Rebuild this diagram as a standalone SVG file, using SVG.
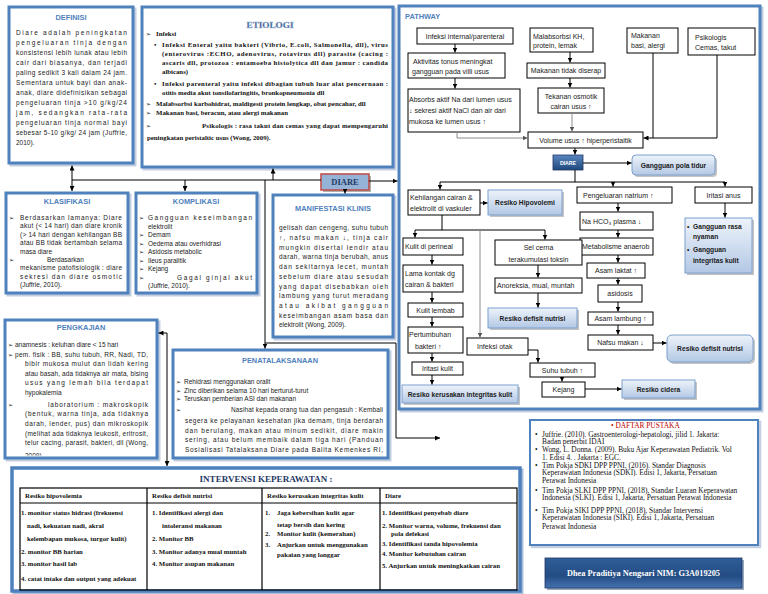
<svg xmlns="http://www.w3.org/2000/svg" width="768" height="594" viewBox="0 0 768 594">
<style>
.box{fill:#fff;stroke:#4F81BD;stroke-width:3}
.sh{fill:none;stroke:#c3cfe0;stroke-width:3}
.ttl{font-family:"Liberation Sans",Arial,sans-serif;font-weight:bold;font-size:7.4px;fill:#4F81BD;text-anchor:middle}
.t{font-family:"Liberation Sans",Arial,sans-serif;font-size:6.5px;fill:#1a1a1a}
.bu{font-family:"DejaVu Sans",sans-serif;font-size:6px;fill:#1a1a1a}
.s{font-family:"Liberation Serif","Times New Roman",serif;font-size:6.8px;font-weight:bold;fill:#111}
.tb{font-family:"Liberation Serif","Times New Roman",serif;font-size:6.8px;font-weight:bold;fill:#111}
.dp{font-family:"Liberation Serif","Times New Roman",serif;font-size:7.4px;fill:#111}
.pn{fill:#fff;stroke:#000;stroke-width:1}
.pt{font-family:"Liberation Sans",Arial,sans-serif;font-size:7px;fill:#1a1a1a}
.c{text-anchor:middle}
.rb{fill:url(#lb);stroke:#7BA0CD;stroke-width:1}
.rs{fill:#c4c4c4}
.rt{font-family:"Liberation Sans",Arial,sans-serif;font-size:6.7px;font-weight:bold;fill:#1a1a1a}
.ln{fill:none;stroke:#000;stroke-width:1}
.lg{fill:none;stroke:#8c8c8c;stroke-width:1}
.tl{fill:none;stroke:#000;stroke-width:1.2}
</style>
<defs>
<marker id="ah" viewBox="0 0 6 6" refX="6" refY="3" markerWidth="5" markerHeight="5" orient="auto-start-reverse" markerUnits="userSpaceOnUse"><path d="M0,0 L6,3 L0,6 z" fill="#000"/></marker>
<marker id="ahg" viewBox="0 0 6 6" refX="6" refY="3" markerWidth="5" markerHeight="5" orient="auto-start-reverse" markerUnits="userSpaceOnUse"><path d="M0,0 L6,3 L0,6 z" fill="#555"/></marker>
<linearGradient id="lb" x1="0" y1="0" x2="0" y2="1"><stop offset="0" stop-color="#EEF3FA"/><stop offset="1" stop-color="#B3C8E5"/></linearGradient>
<linearGradient id="db" x1="0" y1="0" x2="0" y2="1"><stop offset="0" stop-color="#5A86C0"/><stop offset="1" stop-color="#1F497D"/></linearGradient>
<linearGradient id="ab" x1="0" y1="0" x2="0" y2="1"><stop offset="0" stop-color="#2F5E98"/><stop offset="0.6" stop-color="#244C84"/><stop offset="1" stop-color="#4472B0"/></linearGradient>
<clipPath id="cpk"><rect x="5" y="320" width="152" height="135.5"/></clipPath>
</defs>
<rect width="768" height="594" fill="#fff"/>

<g id="definisi">
<rect class="sh" x="11" y="9" width="124" height="156"/>
<rect class="box" x="9" y="7" width="124" height="156"/>
<text class="ttl" x="71" y="20">DEFINISI</text>
<text class="t" x="16" y="35" textLength="111" lengthAdjust="spacing">Diare adalah peningkatan</text>
<text class="t" x="16" y="45" textLength="111" lengthAdjust="spacing">pengeluaran tinja dengan</text>
<text class="t" x="16" y="55" textLength="111" lengthAdjust="spacing">konsistensi lebih lunak atau lebih</text>
<text class="t" x="16" y="65" textLength="111" lengthAdjust="spacing">cair dari biasanya, dan terjadi</text>
<text class="t" x="16" y="75" textLength="111" lengthAdjust="spacing">paling sedikit 3 kali dalam 24 jam.</text>
<text class="t" x="16" y="85" textLength="111" lengthAdjust="spacing">Sementara untuk bayi dan anak-</text>
<text class="t" x="16" y="95" textLength="111" lengthAdjust="spacing">anak, diare didefinisikan sebagai</text>
<text class="t" x="16" y="105" textLength="111" lengthAdjust="spacing">pengeluaran tinja &gt;10 g/kg/24</text>
<text class="t" x="16" y="115" textLength="111" lengthAdjust="spacing">jam, sedangkan rata-rata</text>
<text class="t" x="16" y="125" textLength="111" lengthAdjust="spacing">pengeluaran tinja normal bayi</text>
<text class="t" x="16" y="135" textLength="111" lengthAdjust="spacing">sebesar 5-10 g/kg/ 24 jam (Juffrie,</text>
<text class="t" x="16" y="145">2010).</text>
</g>

<g id="etiologi">
<rect class="sh" x="144" y="9" width="251" height="160"/>
<rect class="box" x="142" y="7" width="251" height="160"/>
<text x="270" y="28" text-anchor="middle" textLength="47" lengthAdjust="spacingAndGlyphs" style="font-family:'Liberation Serif',serif;font-weight:bold;font-size:8.6px;fill:#2B4C82;stroke:#9DB4D6;stroke-width:0.4">ETIOLOGI</text>
<text class="bu" x="146" y="36">➢</text><text class="s" x="156" y="36">Infeksi</text>
<text class="s" x="154" y="46.5">•</text><text class="s" x="162" y="46.5" textLength="226" lengthAdjust="spacing">Infeksi Enteral yaitu bakteri (Vibrio, E.coli, Salmonella, dll), virus</text>
<text class="s" x="162" y="56" textLength="226" lengthAdjust="spacing">(enterovirus :ECHO, adenovirus, rotavirus dll) parasite (cacing :</text>
<text class="s" x="162" y="65" textLength="226" lengthAdjust="spacing">ascaris dll, protozoa : entamoeba histolytica dll dan jamur : candida</text>
<text class="s" x="162" y="74">albicans)</text>
<text class="s" x="154" y="86">•</text><text class="s" x="162" y="86" textLength="226" lengthAdjust="spacing">Infeksi parenteral yaitu infeksi dibagian tubuh luar alat pencernaan :</text>
<text class="s" x="162" y="95">otitis media akut tonsilofaringitis, bronkopneumonia dll</text>
<text class="bu" x="146" y="105.5">➢</text><text class="s" x="156" y="105.5">Malabsorbsi karbohidrat, maldigesti protein lengkap, obat pencahar, dll</text>
<text class="bu" x="146" y="115">➢</text><text class="s" x="156" y="115">Makanan basi, beracun, atau alergi makanan</text>
<text class="bu" x="146" y="128">➢</text><text class="s" x="202" y="128" textLength="186" lengthAdjust="spacing">Psikologis : rasa takut dan cemas yang dapat mempengaruhi</text>
<text class="s" x="147" y="140">peningkatan peristaltic usus (Wong, 2009).</text>
</g>

<g id="diare-center">
<rect x="323" y="176" width="48" height="16" fill="#b0b0b0"/>
<rect x="321" y="174" width="48" height="16" fill="#95B3D7" stroke="#C0504D" stroke-width="1.6"/>
<text x="345" y="185.3" text-anchor="middle" style="font-family:'Liberation Serif',serif;font-weight:bold;font-size:8.5px;fill:#1F3864">DIARE</text>
</g>

<g id="klasifikasi">
<rect class="sh" x="8" y="195" width="122" height="100"/>
<rect class="box" x="6" y="193" width="122" height="100"/>
<text class="ttl" x="67" y="203.5">KLASIFIKASI</text>
<text class="bu" x="9" y="220">➢</text><text class="t" x="20" y="220" textLength="102" lengthAdjust="spacing">Berdasarkan lamanya: Diare</text>
<text class="t" x="20" y="228.4" textLength="102" lengthAdjust="spacing">akut (&lt; 14 hari) dan diare kronik</text>
<text class="t" x="20" y="236.8" textLength="102" lengthAdjust="spacing">(&gt; 14 hari dengan kehilangan BB</text>
<text class="t" x="20" y="245.2" textLength="102" lengthAdjust="spacing">atau BB tidak bertambah selama</text>
<text class="t" x="20" y="253.6">masa diare</text>
<text class="bu" x="9" y="262">➢</text><text class="t" x="47" y="262">Berdasarkan</text>
<text class="t" x="20" y="270.4" textLength="102" lengthAdjust="spacing">mekanisme patofisiologik : diare</text>
<text class="t" x="20" y="278.8" textLength="102" lengthAdjust="spacing">sekresi dan diare osmotic</text>
<text class="t" x="20" y="287.2">(Juffrie, 2010).</text>
</g>

<g id="komplikasi">
<rect class="sh" x="138" y="195" width="121" height="100"/>
<rect class="box" x="136" y="193" width="121" height="100"/>
<text class="ttl" x="196" y="203.5">KOMPLIKASI</text>
<text class="bu" x="139" y="220">➢</text><text class="t" x="148" y="220" textLength="104" lengthAdjust="spacing">Gangguan keseimbangan</text>
<text class="t" x="148" y="228.5">elektrolit</text>
<text class="bu" x="139" y="237">➢</text><text class="t" x="148" y="237">Demam</text>
<text class="bu" x="139" y="245.5">➢</text><text class="t" x="148" y="245.5">Oedema atau overhidrasi</text>
<text class="bu" x="139" y="254">➢</text><text class="t" x="148" y="254">Asidosis metabolic</text>
<text class="bu" x="139" y="262.5">➢</text><text class="t" x="148" y="262.5">Ileus paralitik</text>
<text class="bu" x="139" y="271">➢</text><text class="t" x="148" y="271">Kejang</text>
<text class="bu" x="139" y="279.5">➢</text><text class="t" x="177" y="279.5" textLength="75" lengthAdjust="spacing">Gagal ginjal akut</text>
<text class="t" x="148" y="288">(Juffrie, 2010).</text>
</g>

<g id="manifestasi">
<rect class="sh" x="275" y="197" width="120" height="142"/>
<rect class="box" x="273" y="195" width="120" height="142"/>
<text class="ttl" x="333" y="210.5">MANIFESTASI KLINIS</text>
<text class="t" x="279" y="230.3" textLength="109" lengthAdjust="spacing">gelisah dan cengeng, suhu tubuh</text>
<text class="t" x="279" y="240" textLength="109" lengthAdjust="spacing">↑, nafsu makan ↓, tinja cair</text>
<text class="t" x="279" y="249.7" textLength="109" lengthAdjust="spacing">mungkin disertai lendir atau</text>
<text class="t" x="279" y="259.4" textLength="109" lengthAdjust="spacing">darah, warna tinja berubah, anus</text>
<text class="t" x="279" y="269.1" textLength="109" lengthAdjust="spacing">dan sekitarnya lecet, muntah</text>
<text class="t" x="279" y="278.8" textLength="109" lengthAdjust="spacing">sebelum diare atau sesudah</text>
<text class="t" x="279" y="288.5" textLength="109" lengthAdjust="spacing">yang dapat disebabkan oleh</text>
<text class="t" x="279" y="298.2" textLength="109" lengthAdjust="spacing">lambung yang turut meradang</text>
<text class="t" x="279" y="307.9" textLength="109" lengthAdjust="spacing">atau akibat gangguan</text>
<text class="t" x="279" y="317.6" textLength="109" lengthAdjust="spacing">keseimbangan asam basa dan</text>
<text class="t" x="279" y="327.3">elektrolit (Wong, 2009).</text>
</g>

<g id="pengkajian">
<rect class="sh" x="7" y="322" width="152" height="138"/>
<rect class="box" x="5" y="320" width="152" height="138"/>
<text class="ttl" x="81" y="330">PENGKAJIAN</text>
<g clip-path="url(#cpk)">
<text class="bu" x="8" y="347">➢</text><text class="t" x="15" y="347">anamnesis : keluhan diare &lt; 15 hari</text>
<text class="bu" x="8" y="356.6">➢</text><text class="t" x="15" y="356.6" textLength="133" lengthAdjust="spacing">pem. fisik : BB, suhu tubuh, RR, Nadi, TD,</text>
<text class="t" x="25" y="366.2" textLength="123" lengthAdjust="spacing">bibir mukosa mulut dan lidah kering</text>
<text class="t" x="25" y="375.8" textLength="123" lengthAdjust="spacing">atau basah, ada tidaknya air mata, bising</text>
<text class="t" x="25" y="385.4" textLength="123" lengthAdjust="spacing">usus yang lemah bila terdapat</text>
<text class="t" x="25" y="395">hypokalemia</text>
<text class="bu" x="8" y="406.5">➢</text><text class="t" x="48" y="406.5" textLength="100" lengthAdjust="spacing">laboratorium : makroskopik</text>
<text class="t" x="25" y="416.2" textLength="123" lengthAdjust="spacing">(bentuk, warna tinja, ada tidaknya</text>
<text class="t" x="25" y="425.9" textLength="123" lengthAdjust="spacing">darah, lender, pus) dan mikroskopik</text>
<text class="t" x="25" y="435.6" textLength="123" lengthAdjust="spacing">(melihat ada tidaknya leukosit, eritrosit,</text>
<text class="t" x="25" y="445.3" textLength="123" lengthAdjust="spacing">telur cacing, parasit, bakteri, dll (Wong,</text>
<text class="t" x="25" y="457.5">2009).</text>
</g>
</g>

<g id="penatalaksanaan">
<rect class="sh" x="175" y="352" width="215" height="108"/>
<rect class="box" x="173" y="350" width="215" height="108"/>
<text class="ttl" x="280" y="362.5">PENATALAKSANAAN</text>
<text class="bu" x="176" y="384">➢</text><text class="t" x="184" y="384">Rehidrasi menggunakan oralit</text>
<text class="bu" x="176" y="392.5">➢</text><text class="t" x="184" y="392.5">Zinc diberikan selama 10 hari berturut-turut</text>
<text class="bu" x="176" y="401">➢</text><text class="t" x="184" y="401">Teruskan pemberian ASI dan makanan</text>
<text class="bu" x="176" y="412">➢</text><text class="t" x="231" y="412" textLength="152" lengthAdjust="spacing">Nasihat kepada orang tua dan pengasuh : Kembali</text>
<text class="t" x="185" y="422.5" textLength="198" lengthAdjust="spacing">segera ke pelayanan kesehatan jika demam, tinja berdarah</text>
<text class="t" x="185" y="432.5" textLength="198" lengthAdjust="spacing">dan berulang, makan atau minum sedikit, diare makin</text>
<text class="t" x="185" y="442" textLength="198" lengthAdjust="spacing">sering, atau belum membaik dalam tiga hari (Panduan</text>
<text class="t" x="185" y="451.5" textLength="198" lengthAdjust="spacing">Sosialisasi Tatalaksana Diare pada Balita Kemenkes RI,</text>
</g>

<g id="pathway">
<rect class="sh" x="401" y="8" width="361" height="403"/>
<rect class="box" x="399" y="6" width="361" height="403"/>
<text x="405" y="19" style="font-family:'Liberation Sans',Arial,sans-serif;font-weight:bold;font-size:7.4px;fill:#4F81BD">PATHWAY</text>
</g>

<g id="p-infeksi"><rect class="pn" x="417" y="28" width="96" height="16"/><text class="pt c" x="465" y="38.8">Infeksi internal/parenteral</text></g>
<g id="p-aktivitas"><rect class="pn" x="408" y="53" width="97" height="25"/><text class="pt" x="413" y="63.5">Aktivitas tonus meningkat</text><text class="pt" x="412" y="74">gangguan pada villi usus</text></g>
<g id="p-absorbs"><rect class="pn" x="408" y="89" width="112" height="43"/><text class="pt" x="409" y="101.5">Absorbs aktif Na dari lumen usus</text><text class="pt" x="409" y="112.5">↓ sekresi aktif NaCl dan air dari</text><text class="pt" x="409" y="124">mukosa ke lumen usus ↑</text></g>
<g id="p-malabsorbsi"><rect class="pn" x="530" y="28" width="63" height="24"/><text class="pt" x="533" y="38.5">Malabsorbsi KH,</text><text class="pt" x="533" y="48">protein, lemak</text></g>
<g id="p-makanan-tidak"><rect class="pn" x="527" y="63" width="78" height="15"/><text class="pt c" x="566" y="73">Makanan tidak diserap</text></g>
<g id="p-tekanan"><rect class="pn" x="538" y="88" width="66" height="25"/><text class="pt c" x="571" y="98.5">Tekanan osmotik</text><text class="pt c" x="571" y="109">cairan usus ↑</text></g>
<g id="p-makanan-basi"><rect class="pn" x="627" y="28" width="51" height="25"/><text class="pt" x="631" y="38">Makanan</text><text class="pt" x="631" y="48">basi, alergi</text></g>
<g id="p-psikologis"><rect class="pn" x="688" y="28" width="67" height="27"/><text class="pt" x="695" y="40">Psikologis</text><text class="pt" x="695" y="50">Cemas, takut</text></g>
<g id="p-volume"><rect class="pn" x="528" y="132" width="115" height="16"/><text class="pt c" x="585.5" y="142.5">Volume usus ↑ hiperperistaltik</text></g>
<g id="p-diare"><rect x="553" y="155" width="30" height="15" fill="url(#db)" stroke="#1F3864" stroke-width="0.8"/><text x="568" y="164.8" text-anchor="middle" style="font-family:'Liberation Sans',Arial,sans-serif;font-weight:bold;font-size:5.2px;fill:#fff">DIARE</text></g>
<g id="p-pola-tidur"><rect class="rs" x="634" y="157" width="83" height="20" rx="4"/><rect class="rb" x="632" y="155" width="83" height="20" rx="4"/><text class="rt c" x="673.5" y="167.5">Gangguan pola tidur</text></g>
<g id="p-kehilangan"><rect class="pn" x="408" y="190" width="72" height="25"/><text class="pt" x="410" y="200">Kehilangan cairan &amp;</text><text class="pt" x="410" y="210.5">elektrolit di vaskuler</text></g>
<g id="p-hipovolemi"><rect class="rs" x="490" y="192" width="74" height="25"/><rect class="rb" x="488" y="190" width="74" height="25"/><text class="rt c" x="525" y="205">Resiko Hipovolemi</text></g>
<g id="p-natrium"><rect class="pn" x="577" y="187" width="95" height="16"/><text class="pt" x="583" y="197.5">Pengeluaran natrium ↑</text></g>
<g id="p-iritasi-anus"><rect class="pn" x="695" y="187" width="57" height="16"/><text class="pt c" x="723.5" y="197.5">Iritasi anus</text></g>
<g id="p-gangguan-rasa"><rect class="rs" x="687" y="220" width="67" height="55"/><rect class="rb" x="685" y="218" width="67" height="55"/><text class="rt" x="687" y="228.5">•</text><text class="rt" x="693" y="228.5">Gangguan rasa</text><text class="rt" x="693" y="239">nyaman</text><text class="rt" x="687" y="252">•</text><text class="rt" x="693" y="252">Gangguan</text><text class="rt" x="693" y="262.5">integritas kulit</text></g>
<g id="p-nahco3"><rect class="pn" x="580" y="212" width="73" height="18"/><text class="pt" x="582" y="223.5">Na HCO₃ plasma ↓</text></g>
<g id="p-metabolisme"><rect class="pn" x="580" y="238" width="73" height="17"/><text class="pt" x="582" y="249">Metabolisme anaerob</text></g>
<g id="p-laktat"><rect class="pn" x="587" y="263" width="58" height="15"/><text class="pt c" x="616" y="273">Asam laktat ↑</text></g>
<g id="p-asidosis"><rect class="pn" x="598" y="285" width="44" height="17"/><text class="pt c" x="620" y="296">asidosis</text></g>
<g id="p-lambung"><rect class="pn" x="588" y="312" width="65" height="13"/><text class="pt c" x="620.5" y="321">Asam lambung ↑</text></g>
<g id="p-nafsu"><rect class="pn" x="588" y="335" width="65" height="15"/><text class="pt c" x="620.5" y="345">Nafsu makan ↓</text></g>
<g id="p-defisit2"><rect class="rs" x="669" y="337" width="86" height="27" rx="5"/><rect class="rb" x="667" y="335" width="86" height="27" rx="5"/><text class="rt c" x="710" y="351">Resiko defisit nutrisi</text></g>
<g id="p-perineal"><rect class="pn" x="403" y="238" width="60" height="17"/><text class="pt" x="405" y="249">Kulit di perineal</text></g>
<g id="p-lama"><rect class="pn" x="403" y="265" width="60" height="27"/><text class="pt" x="405" y="276">Lama kontak dg</text><text class="pt" x="405" y="287">cairan &amp; bakteri</text></g>
<g id="p-selcerna"><rect class="pn" x="495" y="240" width="87" height="25"/><text class="pt c" x="538.5" y="250">Sel cerna</text><text class="pt c" x="538.5" y="261.5">terakumulasi toksin</text></g>
<g id="p-anoreksia"><rect class="pn" x="495" y="278" width="87" height="15"/><text class="pt" x="497" y="288">Anoreksia, mual, muntah</text></g>
<g id="p-defisit1"><rect class="rs" x="490" y="310" width="89" height="20"/><rect class="rb" x="488" y="308" width="89" height="20"/><text class="rt c" x="532.5" y="320.5">Resiko defisit nutrisi</text></g>
<g id="p-lembab"><rect class="pn" x="408" y="303" width="55" height="14"/><text class="pt c" x="435.5" y="312.5">Kulit lembab</text></g>
<g id="p-pertumbuhan"><rect class="pn" x="408" y="327" width="55" height="26"/><text class="pt" x="409" y="337">Pertumbuhan</text><text class="pt" x="415" y="348.5">bakteri ↑</text></g>
<g id="p-iritasi-kulit"><rect class="pn" x="412" y="362" width="51" height="13"/><text class="pt c" x="437.5" y="371">Iritasi kulit</text></g>
<g id="p-integritas"><rect class="rs" x="404" y="387" width="116" height="18"/><rect class="rb" x="402" y="385" width="116" height="18"/><text class="rt c" x="460" y="396.5">Resiko kerusakan integritas kulit</text></g>
<g id="p-infeksi-otak"><rect class="pn" x="467" y="338" width="61" height="17"/><text class="pt" x="477" y="349">Infeksi otak</text></g>
<g id="p-suhu"><rect class="pn" x="530" y="363" width="65" height="14"/><text class="pt c" x="562.5" y="372.5">Suhu tubuh ↑</text></g>
<g id="p-kejang"><rect class="pn" x="542" y="382" width="43" height="15"/><text class="pt c" x="563.5" y="392">Kejang</text></g>
<g id="p-cidera"><rect class="rs" x="624" y="382" width="73" height="18"/><rect class="rb" x="622" y="380" width="73" height="18"/><text class="rt c" x="658.5" y="391.5">Resiko cidera</text></g>

<g id="intervensi">
<rect x="14" y="470" width="508" height="123" fill="none" stroke="#A9BEDC" stroke-width="3"/>
<rect x="12" y="468" width="508" height="123" fill="#fff" stroke="#4F81BD" stroke-width="3.5"/>
<text x="266" y="482" text-anchor="middle" textLength="133" lengthAdjust="spacingAndGlyphs" style="font-family:'Liberation Serif',serif;font-weight:bold;font-size:9px;fill:#1F3864">INTERVENSI KEPERAWATAN :</text>
<rect class="tl" x="20" y="488" width="497" height="102"/>
<path class="tl" d="M20,503 H517 M147,488 V590 M262,488 V590 M380,488 V590"/>
<text class="tb" x="25" y="497.5">Resiko hipovolemia</text>
<text class="tb" x="152" y="497.5">Resiko defisit nutrisi</text>
<text class="tb" x="267" y="497.5">Resiko kerusakan integritas kulit</text>
<text class="tb" x="385" y="497.5">Diare</text>
<text class="tb" x="21" y="515">1. monitor status hidrasi (frekuensi</text>
<text class="tb" x="27" y="528">nadi, kekuatan nadi, akral</text>
<text class="tb" x="27" y="540.5">kelembapan mukosa, turgor kulit)</text>
<text class="tb" x="21" y="554">2. monitor BB harian</text>
<text class="tb" x="21" y="565.5">3. monitor hasil lab</text>
<text class="tb" x="21" y="580.5">4. catat intake dan output yang adekuat</text>
<text class="tb" x="152" y="515">1. Identifikasi alergi dan</text>
<text class="tb" x="162" y="528">intoleransi makanan</text>
<text class="tb" x="152" y="540.5">2. Monitor BB</text>
<text class="tb" x="152" y="554">3. Monitor adanya mual muntah</text>
<text class="tb" x="152" y="565.5">4. Monitor asupan makanan</text>
<text class="tb" x="265" y="515">1.</text><text class="tb" x="277" y="515">Jaga kebersihan kulit agar</text>
<text class="tb" x="277" y="526.5">tetap bersih dan kering</text>
<text class="tb" x="265" y="535.5">2.</text><text class="tb" x="277" y="535.5">Monitor kulit (kemerahan)</text>
<text class="tb" x="265" y="546.5">3.</text><text class="tb" x="277" y="546.5">Anjurkan untuk menggunakan</text>
<text class="tb" x="277" y="557">pakaian yang longgar</text>
<text class="tb" x="382" y="515">1. Identifikasi penyebab diare</text>
<text class="tb" x="382" y="527.5">2. Monitor warna, volume, frekuensi dan</text>
<text class="tb" x="391" y="536">pola defekasi</text>
<text class="tb" x="382" y="546">3. Identifikasi tanda hipovolemia</text>
<text class="tb" x="382" y="556">4. Monitor kebutuhan cairan</text>
<text class="tb" x="382" y="568">5. Anjurkan untuk meningkatkan cairan</text>
</g>

<g id="daftar-pustaka">
<rect x="532" y="422" width="228" height="125" fill="none" stroke="#c3cfe0" stroke-width="2.5"/>
<rect x="530" y="420" width="228" height="125" fill="#fff" stroke="#4F81BD" stroke-width="2"/>
<text x="611" y="428" style="font-family:'Liberation Serif',serif;font-size:7.4px;fill:#C00000">•  DAFTAR PUSTAKA</text>
<text class="dp" x="535" y="436.5">•</text><text class="dp" x="542" y="436.5">Juffrie. (2010). Gastroenterologi-hepatologi, jilid 1. Jakarta:</text>
<text class="dp" x="542" y="444.3">Badan penerbit IDAI</text>
<text class="dp" x="535" y="452">•</text><text class="dp" x="542" y="452">Wong, L. Donna. (2009). Buku Ajar Keperawatan Pediatrik. Vol</text>
<text class="dp" x="542" y="459.7">1. Edisi 4. . Jakarta : EGC.</text>
<text class="dp" x="535" y="467.5">•</text><text class="dp" x="542" y="467.5">Tim Pokja SDKI DPP PPNI, (2016). Standar Diagnosis</text>
<text class="dp" x="542" y="475">Keperawatan Indonesia (SDKI). Edisi 1, Jakarta, Persatuan</text>
<text class="dp" x="542" y="482.5">Perawat Indonesia</text>
<text class="dp" x="535" y="492.5">•</text><text class="dp" x="542" y="492.5">Tim Pokja SLKI DPP PPNI, (2018), Standar Luaran Keperawatan</text>
<text class="dp" x="542" y="500">Indonesia (SLKI). Edisi 1, Jakarta, Persatuan Perawat Indonesia</text>
<text class="dp" x="535" y="512.5">•</text><text class="dp" x="542" y="512.5">Tim Pokja SIKI DPP PPNI, (2018), Standar Intervensi</text>
<text class="dp" x="542" y="520">Keperawatan Indonesia (SIKI). Edisi 1, Jakarta, Persatuan</text>
<text class="dp" x="542" y="528.5">Perawat Indonesia</text>
</g>

<g id="author">
<rect x="547" y="560" width="197" height="30" fill="#9aa9bd"/>
<rect x="545" y="558" width="197" height="30" fill="url(#ab)" stroke="#1F3864" stroke-width="0.8"/>
<text x="643.5" y="576.3" text-anchor="middle" style="font-family:'Liberation Serif',serif;font-weight:bold;font-size:8.3px;fill:#fff">Dhea Praditiya Nengsari NIM: G3A019205</text>
</g>

<g id="connectors">
<path class="ln" d="M72,165.5 V191" marker-start="url(#ah)" marker-end="url(#ah)"/>
<path class="ln" d="M72,180 H321"/>
<path class="ln" d="M185,180 V191" marker-end="url(#ah)"/>
<path class="ln" d="M273,180 V168.5" marker-end="url(#ah)"/>
<path class="ln" d="M265,180 V348.5" marker-end="url(#ah)"/>
<path class="ln" d="M265,343 H396 V438 H440" marker-end="url(#ah)"/>
<path class="ln" d="M345,190 V193.5" marker-end="url(#ah)"/>
<path class="ln" d="M369,181 H397.5" marker-end="url(#ah)"/>
<path class="ln" d="M158.5,333 H167 V466" marker-start="url(#ah)" marker-end="url(#ah)"/>
<path class="ln" d="M455,44 V52.5" marker-end="url(#ah)"/>
<path class="ln" d="M455,78 V88.5" marker-end="url(#ah)"/>
<path class="lg" d="M457,132 V138 H527.5" marker-end="url(#ahg)"/>
<path class="ln" d="M570,52 V62.5" marker-end="url(#ah)"/>
<path class="ln" d="M570,78 V87.5" marker-end="url(#ah)"/>
<path class="lg" d="M572,113 V131.5" marker-end="url(#ahg)"/>
<path class="ln" d="M653,53 V138"/>
<path class="ln" d="M717,55 V138 H643.5" marker-end="url(#ah)"/>
<path class="ln" d="M575,148 V154.5" marker-end="url(#ah)"/>
<path class="ln" d="M583,163 H631.5" marker-end="url(#ah)"/>
<path class="ln" d="M575,170 V182 M440,182 H725"/>
<path class="ln" d="M440,182 V189.5" marker-end="url(#ah)"/>
<path class="ln" d="M613,182 V186.5" marker-end="url(#ah)"/>
<path class="ln" d="M725,182 V186.5" marker-end="url(#ah)"/>
<path class="ln" d="M480,203 H487.5" marker-end="url(#ah)"/>
<path class="ln" d="M725,203 V217.5" marker-end="url(#ah)"/>
<path class="ln" d="M618,203 V211.5" marker-end="url(#ah)"/>
<path class="ln" d="M618,230 V237.5" marker-end="url(#ah)"/>
<path class="ln" d="M618,255 V262.5" marker-end="url(#ah)"/>
<path class="ln" d="M618,278 V284.5" marker-end="url(#ah)"/>
<path class="ln" d="M618,302 V311.5" marker-end="url(#ah)"/>
<path class="ln" d="M618,325 V334.5" marker-end="url(#ah)"/>
<path class="ln" d="M653,343 H666.5" marker-end="url(#ah)"/>
<path class="ln" d="M442,215 V230 M415,230 H545"/>
<path class="ln" d="M415,230 V237.5" marker-end="url(#ah)"/>
<path class="ln" d="M545,230 V239.5" marker-end="url(#ah)"/>
<path class="lg" d="M480,230 V337.5" marker-end="url(#ahg)"/>
<path class="ln" d="M432,255 V264.5" marker-end="url(#ah)"/>
<path class="ln" d="M432,292 V302.5" marker-end="url(#ah)"/>
<path class="ln" d="M432,317 V326.5" marker-end="url(#ah)"/>
<path class="ln" d="M432,353 V361.5" marker-end="url(#ah)"/>
<path class="ln" d="M432,375 V384.5" marker-end="url(#ah)"/>
<path class="ln" d="M538,265 V277.5" marker-end="url(#ah)"/>
<path class="ln" d="M538,293 V307.5" marker-end="url(#ah)"/>
<path class="ln" d="M528,350 H538 V362.5" marker-end="url(#ah)"/>
<path class="ln" d="M562,377 V381.5" marker-end="url(#ah)"/>
<path class="ln" d="M585,389 H621.5" marker-end="url(#ah)"/>
</g>
</svg>
